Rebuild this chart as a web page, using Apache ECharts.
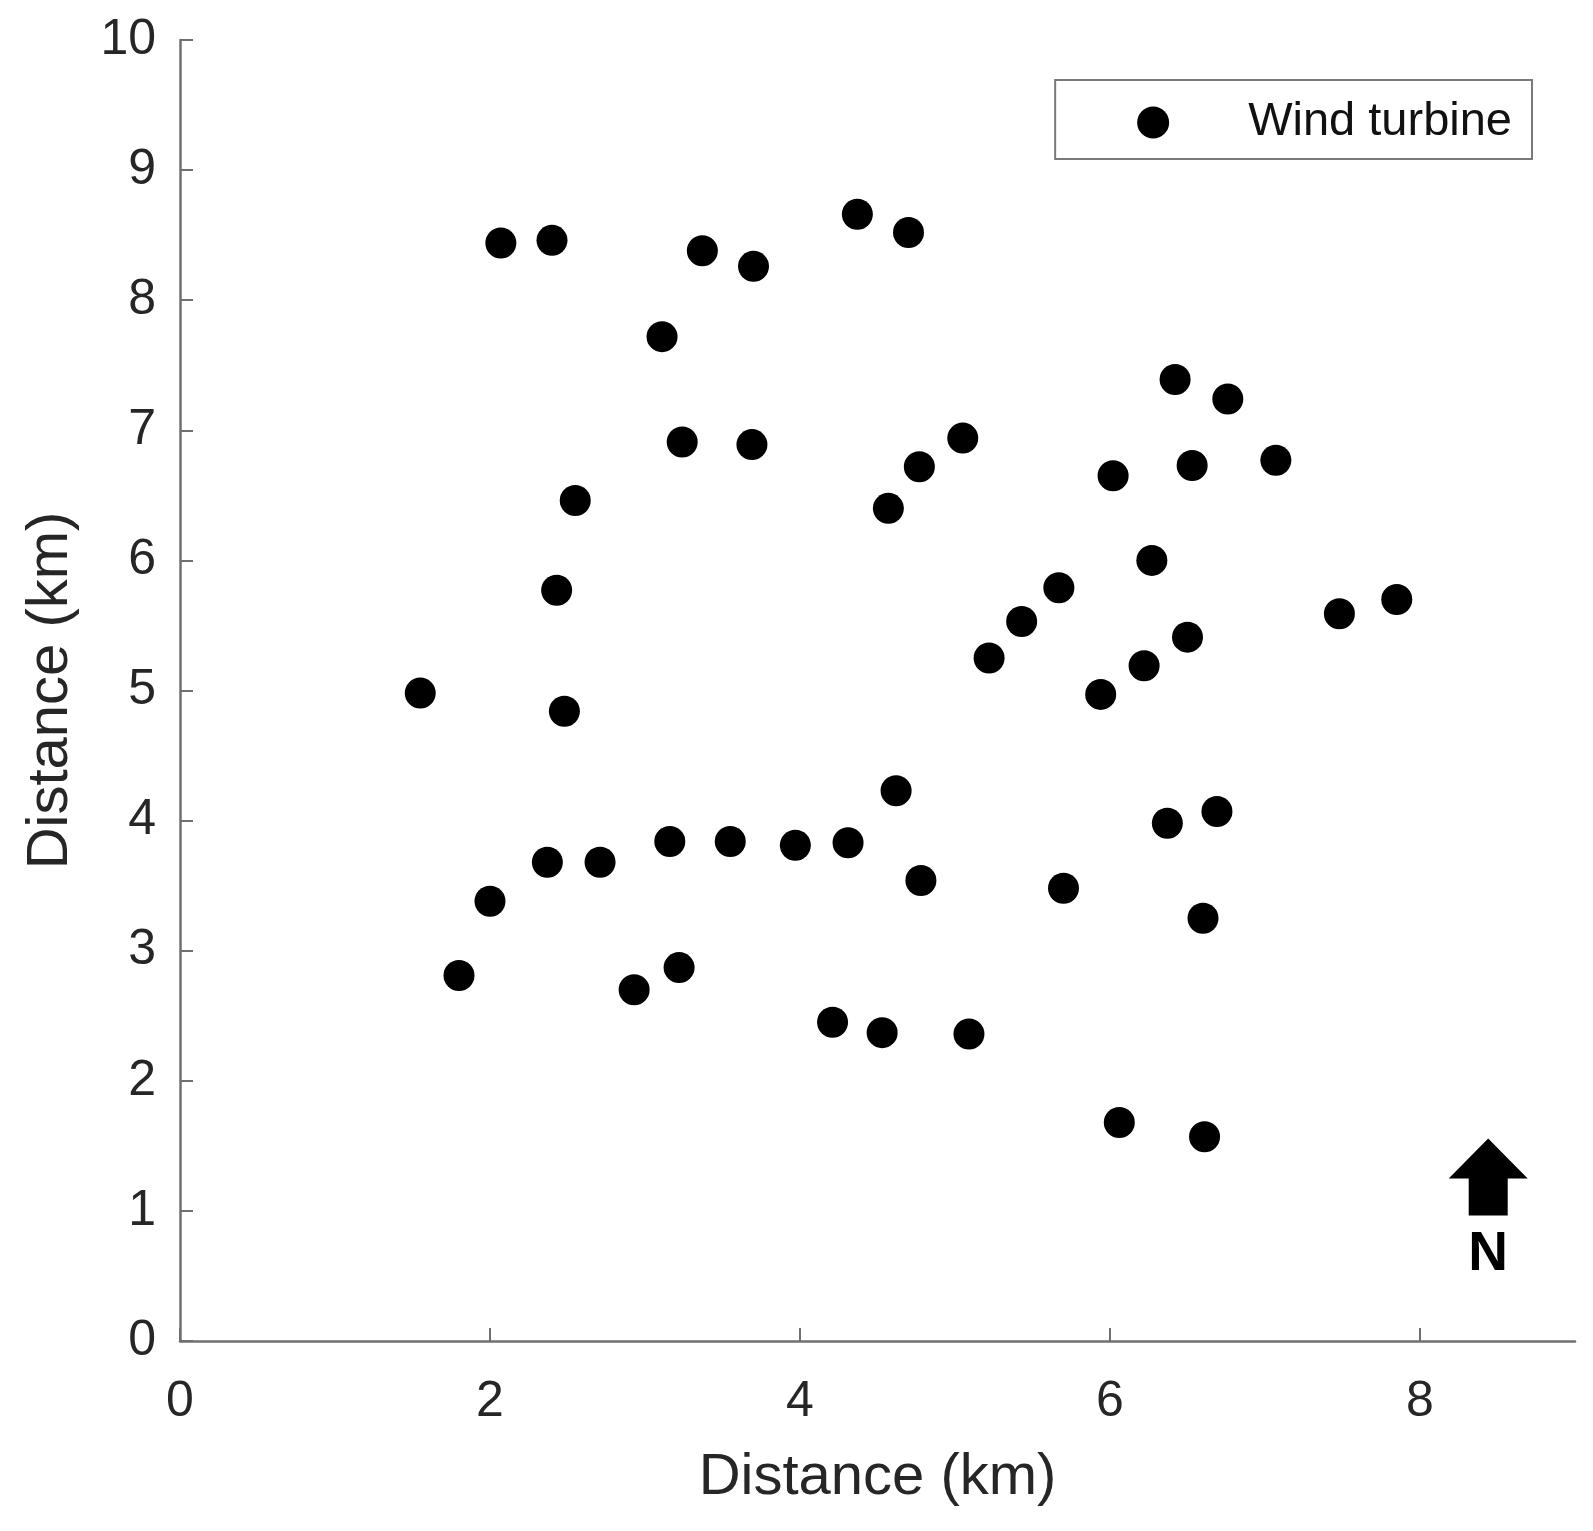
<!DOCTYPE html>
<html>
<head>
<meta charset="utf-8">
<script src="https://cdn.jsdelivr.net/npm/echarts@6/dist/echarts.min.js"></script>
<style>
html,body{margin:0;padding:0;background:#fff;}
#chart{width:1593px;height:1531px;}
</style>
</head>
<body>
<div id="chart"></div>
<script>
// Wind turbine positions (km)
const turbineX = [2.07,2.40,3.37,3.70,4.37,4.70,3.11,6.42,6.76,3.24,3.69,5.05,4.77,4.57,2.55,6.02,6.53,7.07,6.27,2.43,5.67,5.43,5.22,6.50,6.22,5.94,7.48,7.85,1.55,2.48,4.62,6.37,6.69,3.16,3.55,3.97,4.31,2.37,2.71,2.00,4.78,5.70,6.60,1.80,2.93,3.22,4.21,4.53,5.09,6.06,6.61];
const turbineY = [8.44,8.46,8.38,8.26,8.66,8.52,7.72,7.39,7.24,6.91,6.89,6.94,6.72,6.40,6.46,6.65,6.73,6.77,6.00,5.77,5.79,5.53,5.25,5.41,5.19,4.97,5.59,5.70,4.98,4.84,4.23,3.98,4.07,3.84,3.84,3.81,3.83,3.68,3.68,3.38,3.54,3.48,3.25,2.81,2.70,2.87,2.45,2.37,2.36,1.68,1.57];
const xTicks = [0,2,4,6,8];
const yTicks = [0,1,2,3,4,5,6,7,8,9,10];
const northArrowPos = [[8.44, 1.26]];
const seriesName = 'Wind turbine';
const axisTitle = 'Distance (km)';

const turbineData = turbineX.map((x, i) => [x, turbineY[i]]);
const FONT = 'Liberation Sans, Arial, Helvetica, sans-serif';
const axisColor = '#707070';

const chart = echarts.init(document.getElementById('chart'), null, {renderer: 'canvas'});
chart.setOption({
  backgroundColor: '#ffffff',
  animation: false,
  grid: {left: 180, right: 18, top: 40, bottom: 190, containLabel: false},
  legend: {
    data: [seriesName],
    right: 61, top: 80,
    orient: 'horizontal',
    backgroundColor: '#ffffff',
    borderColor: '#7a7a7a', borderWidth: 2, borderRadius: 0,
    padding: [19, 20, 13, 82],
    itemWidth: 32, itemHeight: 32,
    icon: 'circle',
    itemStyle: {color: '#000', opacity: 1},
    textStyle: {fontFamily: FONT, fontSize: 47, color: '#111', padding: [0, 0, 0, 74]},
    selectedMode: false
  },
  xAxis: {
    type: 'value', min: 0, max: 9,
    name: axisTitle, nameLocation: 'middle', nameGap: 108,
    nameTextStyle: {fontFamily: FONT, fontSize: 58, color: '#262626'},
    axisLine: {show: true, onZero: false, lineStyle: {color: axisColor, width: 2.5}},
    axisTick: {show: true, inside: true, length: 13, customValues: xTicks, lineStyle: {color: axisColor, width: 2}},
    axisLabel: {fontFamily: FONT, fontSize: 50, color: '#262626', margin: 36, customValues: xTicks},
    splitLine: {show: false}
  },
  yAxis: {
    type: 'value', min: 0, max: 10, interval: 1,
    name: axisTitle, nameLocation: 'middle', nameGap: 100, nameRotate: 90,
    nameTextStyle: {fontFamily: FONT, fontSize: 58, color: '#262626'},
    axisLine: {show: true, onZero: false, lineStyle: {color: axisColor, width: 2.5}},
    axisTick: {show: true, inside: true, length: 13, customValues: yTicks, lineStyle: {color: axisColor, width: 2}},
    axisLabel: {fontFamily: FONT, fontSize: 50, color: '#262626', margin: 24, customValues: yTicks},
    splitLine: {show: false}
  },
  series: [
    {
      name: seriesName, type: 'scatter',
      data: turbineData,
      symbol: 'circle', symbolSize: 31,
      itemStyle: {color: '#000', opacity: 1},
      silent: true
    },
    {
      name: 'north', type: 'scatter',
      data: northArrowPos,
      symbol: 'path://M39.5,0 L79,40 L59,40 L59,77 L20,77 L20,40 L0,40 Z',
      symbolSize: [79, 77],
      itemStyle: {color: '#000', opacity: 1},
      silent: true,
      label: {show: true, position: 'bottom', distance: 12, formatter: 'N',
        fontFamily: FONT, fontSize: 55, fontWeight: 'bold', color: '#000'}
    }
  ]
});
</script>
</body>
</html>
